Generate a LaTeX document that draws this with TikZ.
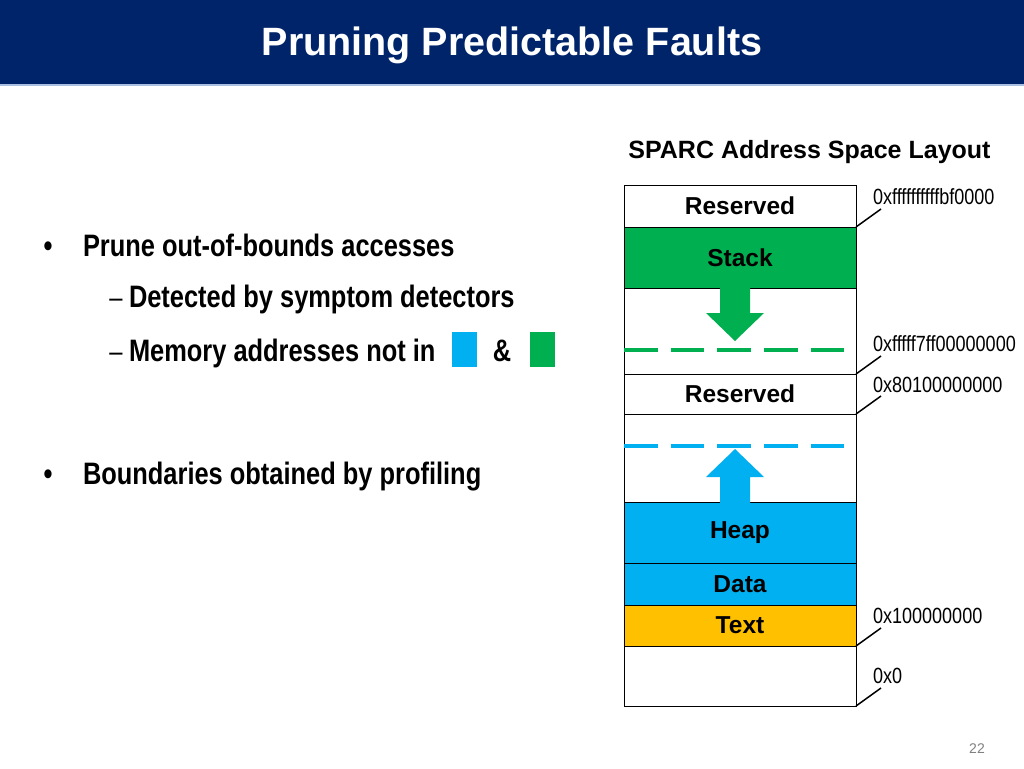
\documentclass[tikz,border=0pt]{standalone}
\usepackage{fontspec}
\setmainfont{Liberation Sans}
\newfontfamily\narrowfont[FakeStretch=0.82]{Liberation Sans}
\definecolor{navy}{RGB}{0,36,106}
\definecolor{lightline}{RGB}{170,190,225}
\definecolor{stackgreen}{RGB}{0,176,80}
\definecolor{heapblue}{RGB}{0,176,240}
\definecolor{textgold}{RGB}{255,192,0}
\definecolor{pagegray}{RGB}{128,128,128}
\tikzset{
  cell/.style={draw=black, line width=1pt, minimum width=232pt, minimum height=#1,
    inner sep=0pt, outer sep=0pt, anchor=north,
    font=\fontsize{24.5}{28}\selectfont\bfseries},
  txt/.style={inner sep=0pt, outer sep=0pt},
  bul/.style={txt, font=\narrowfont\fontsize{31}{36}\selectfont\bfseries},
  subdash/.style={txt, font=\narrowfont\fontsize{29}{34}\selectfont},
  hex/.style={txt, anchor=base west, font=\narrowfont\fontsize{22}{26}\selectfont},
  leader/.style={draw=black, line width=1.5pt},
  gdash/.style={stackgreen, line width=4pt, dash pattern=on 33.5pt off 13.2pt},
  bdash/.style={heapblue, line width=4pt, dash pattern=on 33.5pt off 13.2pt},
  sq/.style={inner sep=0pt, outer sep=0pt, minimum width=25pt, minimum height=35pt}
}
\begin{document}
\begin{tikzpicture}[x=1pt,y=-1pt]
\useasboundingbox (0,0) rectangle (1024,768);
\fill[white] (0,0) rectangle (1024,768);
% banner
\fill[navy] (0,0) rectangle (1024,84);
\draw[lightline, line width=1.5pt] (0,85) -- (1024,85);
\node[txt, anchor=base, text=white, font=\fontsize{39.5}{45}\selectfont\bfseries] (title) at (512,56) {Pruning Predictable Faults};

% bullets
\node[bul, anchor=base] (d1) at (48,256) {•};
\node[bul, anchor=base west] (b1) at (83,256) {Prune out-of-bounds accesses};
\node[subdash, anchor=base] (d2) at (116,307) {–};
\node[bul, anchor=base west] (b2) at (129,307) {Detected by symptom detectors};
\node[subdash, anchor=base] (d3) at (116,361) {–};
\node[bul, anchor=base west] (b3) at (129,361) {Memory addresses not in};
\node[sq, fill=heapblue] (sqb) at (464.5,349.5) {};
\node[bul, anchor=base] (amp) at (502,361) {\&};
\node[sq, fill=stackgreen] (sqg) at (542,349.5) {};
\node[bul, anchor=base] (d4) at (48,484) {•};
\node[bul, anchor=base west] (b4) at (83,484) {Boundaries obtained by profiling};

% diagram title
\node[txt, anchor=base, font=\fontsize{25}{30}\selectfont\bfseries] (lay) at (809.5,158) {SPARC Address Space Layout};

% memory cells
\node[cell=42pt] (res1) at (740,185) {Reserved};
\node[cell=61pt, fill=stackgreen] (stack) at (res1.south) {Stack};
\node[cell=86pt] (gap1) at (stack.south) {};
\node[cell=40pt] (res2) at (gap1.south) {Reserved};
\node[cell=88pt] (gap2) at (res2.south) {};
\node[cell=61pt, fill=heapblue] (heap) at (gap2.south) {Heap};
\node[cell=42pt, fill=heapblue] (data) at (heap.south) {Data};
\node[cell=41pt, fill=textgold] (text) at (data.south) {Text};
\node[cell=60pt] (bot) at (text.south) {};

% growth arrows
\fill[stackgreen] (720,286) -- (750,286) -- (750,313) -- (764,313) -- (735,341) -- (706,313) -- (720,313) -- cycle;
\fill[heapblue] (720,503) -- (750,503) -- (750,477) -- (764,477) -- (735,449) -- (706,477) -- (720,477) -- cycle;

% boundaries
\coordinate (gs) at (624,350);
\coordinate (ge) at (845,350);
\draw[gdash] (gs) -- (ge);
\coordinate (bs) at (624,446);
\coordinate (be) at (845,446);
\draw[bdash] (bs) -- (be);

% leaders and addresses
\draw[leader] (res1.south east) -- ++(25,-18) coordinate (l1);
\node[hex] (h1) at (873,204) {0xffffffffffbf0000};
\draw[leader] (gap1.south east) -- ++(25,-18) coordinate (l2);
\node[hex] (h2) at (873,351) {0xfffff7ff00000000};
\draw[leader] (res2.south east) -- ++(25,-18) coordinate (l3);
\node[hex] (h3) at (873,392) {0x80100000000};
\draw[leader] (text.south east) -- ++(25,-18) coordinate (l4);
\node[hex] (h4) at (873,623) {0x100000000};
\draw[leader] (bot.south east) -- ++(25,-18) coordinate (l5);
\node[hex] (h5) at (873,683) {0x0};

% page number
\node[txt, anchor=base, text=pagegray, font=\fontsize{14}{16}\selectfont] (pg) at (977,753) {22};
\end{tikzpicture}
\end{document}
